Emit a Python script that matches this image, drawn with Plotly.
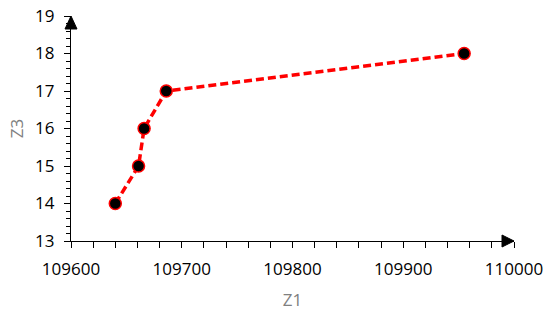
import plotly.graph_objects as go

# values
z1 = [109640, 109661, 109666, 109686, 109955]
z3 = [14, 15, 16, 17, 18]

x_ticks = [109600, 109700, 109800, 109900, 110000]
y_ticks = [13, 14, 15, 16, 17, 18, 19]

font_family = "Open Sans"
gray = "#808080"

fig = go.Figure()
fig.add_trace(go.Scatter(
    x=z1, y=z3, mode="lines+markers",
    line=dict(color="#FF0000", width=3.5, dash="8px,4px"),
    marker=dict(color="black", size=12, line=dict(color="#FF0000", width=1.5)),
    cliponaxis=False, showlegend=False,
))

fig.update_xaxes(
    range=[109600, 110000], tickvals=x_ticks, ticktext=[str(v) for v in x_ticks],
    showline=True, linecolor="black", linewidth=1.2, mirror=False,
    ticks="outside", ticklen=6, tickcolor="black", tickwidth=1,
    minor=dict(dtick=20, ticks="outside", ticklen=6, tickcolor="black", tickwidth=1),
    showgrid=False, zeroline=False, automargin=False,
    tickfont=dict(family=font_family, size=17, color="black"),
    ticklabelstandoff=6,
    title=dict(text="Z1", font=dict(family=font_family, size=17, color=gray), standoff=20),
    fixedrange=True,
)
fig.update_yaxes(
    range=[13, 19], tickvals=y_ticks,
    showline=True, linecolor="black", linewidth=1.2,
    ticks="outside", ticklen=6, tickcolor="black", tickwidth=1,
    minor=dict(dtick=0.2, ticks="outside", ticklen=4, tickcolor="black", tickwidth=1),
    showgrid=False, zeroline=False, automargin=False,
    tickfont=dict(family=font_family, size=17, color="black"),
    ticklabelstandoff=6,
    title=dict(text="Z3", font=dict(family=font_family, size=17, color=gray), standoff=7),
    fixedrange=True,
)

# arrow heads on the axis ends (paper refs so they are not clipped)
fig.add_shape(type="path", xref="paper", yref="paper", xsizemode="pixel", ysizemode="pixel",
              xanchor=1, yanchor=0, path="M -12,-6 L 0,0 L -12,6 Z",
              fillcolor="black", line=dict(color="black", width=1))
fig.add_shape(type="path", xref="paper", yref="paper", xsizemode="pixel", ysizemode="pixel",
              xanchor=0, yanchor=1, path="M -6,-13 L 0,0 L 6,-13 Z",
              fillcolor="black", line=dict(color="black", width=1))

fig.update_layout(
    width=550, height=311,
    margin=dict(l=71, r=36, t=16, b=70),
    plot_bgcolor="white", paper_bgcolor="white",
)

# drop the browser's default body margin so the figure sits at the page corner
fig.write_html("out.html", config={"displayModeBar": False},
               post_script="document.body.style.margin='0';")
